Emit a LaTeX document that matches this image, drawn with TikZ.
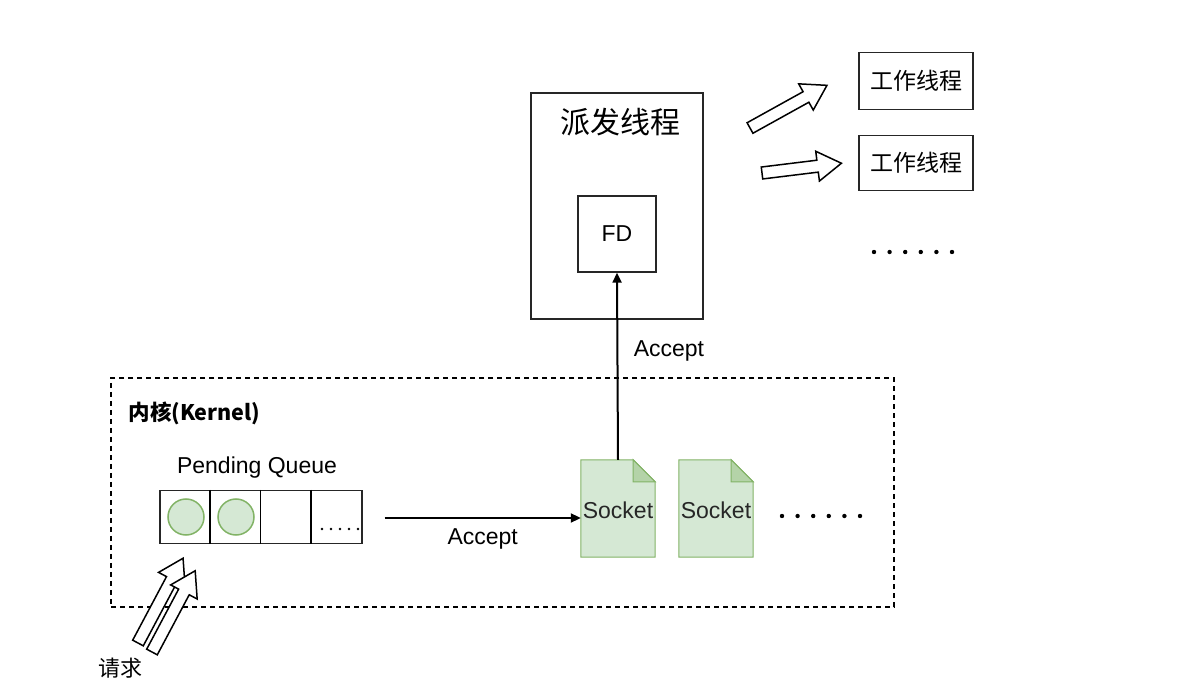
\documentclass[tikz,border=0pt]{standalone}
\usepackage{fontspec}
\setmainfont{Liberation Sans}
\newfontfamily\cjk{Noto Sans CJK SC}
\usetikzlibrary{arrows.meta,calc}
\definecolor{gfill}{HTML}{D5E8D4}
\definecolor{gline}{HTML}{82B366}
\begin{document}
\begin{tikzpicture}[x=1pt,y=-1pt,
  box/.style={draw=black!85,line width=1.3pt,inner sep=0pt},
  lbl/.style={font=\fontsize{23}{26}\selectfont},
  flow/.style={line width=2pt,-{Triangle[length=10pt,width=9pt]}},
  pics/harrow/.style={code={\draw[line width=1.5pt,fill=white]
    (0,-6)--(#1-24,-6)--(#1-24,-15)--(#1,0)--(#1-24,15)--(#1-24,6)--(0,6)--cycle;}}]
\useasboundingbox (0,0) rectangle (1187,684);

% dispatcher
\node[box,minimum width=172pt,minimum height=226pt] (disp) at (617,206) {};
\node[font=\cjk\fontsize{30}{33}\selectfont] (dt) at (620,122) {派发线程};
\node[box,minimum width=78pt,minimum height=76pt,lbl] (fd) at (617,234) {FD};

% workers
\node[box,minimum width=114pt,minimum height=57pt,font=\cjk\fontsize{23}{26}\selectfont] (w1) at (916,81) {工作线程};
\node[box,minimum width=114pt,minimum height=55pt,font=\cjk\fontsize{23}{26}\selectfont] (w2) at (916,163) {工作线程};
\foreach \i in {0,...,5} \fill (874+15.6*\i,252) circle (2.2);
\pic[rotate=29] at (750,128) {harrow=88};
\pic[rotate=7] at (762,173) {harrow=80};

% kernel
\node[draw,dash pattern=on 5pt off 4pt,line width=1.2pt,minimum width=783pt,minimum height=229pt] (kern) at (502.5,492.5) {};
\node[anchor=west,font=\cjk\bfseries\fontsize{21.5}{24}\selectfont] (kl) at (125,413) {内核(Kernel)};

% pending queue
\node[lbl] (pq) at (257,468) {Pending Queue};
\node[box,minimum width=202pt,minimum height=53pt] (q) at (261,517) {};
\foreach \i in {1,2,3}
  \draw[line width=1.3pt] ($(q.north west)+(50.5*\i,0)$) -- ($(q.south west)+(50.5*\i,0)$);
\foreach \c in {186,236}
  \draw[gline,fill=gfill,line width=1.5pt] (\c,517) circle (18);
\foreach \i in {0,...,4} \fill (322+9*\i,529) circle (1.3);

% sockets
\foreach \n/\cx in {s1/618,s2/716}{
  \node[minimum width=74pt,minimum height=97pt,inner sep=0pt,lbl] (\n) at (\cx,508.5) {};
  \draw[gline,fill=gfill,line width=1pt] (\n.north west) -- ($(\n.north east)+(-22,0)$)
    -- ($(\n.north east)+(0,22)$) -- (\n.south east) -- (\n.south west) -- cycle;
  \draw[gline,fill=gline!40!gfill,line width=1pt] ($(\n.north east)+(-22,0)$)
    -- ($(\n.north east)+(-22,22)$) -- ($(\n.north east)+(0,22)$) -- cycle;
  \node[lbl,text=black!85] at ($(\n)+(0,2)$) {Socket};
}
\foreach \i in {0,...,5} \fill (782+15.6*\i,516) circle (2.2);

% connectors
\coordinate (qa) at ($(q.east)+(22,1)$);
\draw[flow] (qa) -- (qa -| s1.west) node[midway,below=6pt,lbl] (a1) {Accept};
\draw[flow] (s1.north) -- (fd.south) node[pos=0.58,right=12pt,lbl] (a2) {Accept};

% requests
\pic[rotate=62] at (138,643) {harrow=96};
\pic[rotate=62] at (152,652) {harrow=92};
\node[font=\cjk\fontsize{22}{24}\selectfont] (req) at (120,668) {请求};
\end{tikzpicture}
\end{document}
